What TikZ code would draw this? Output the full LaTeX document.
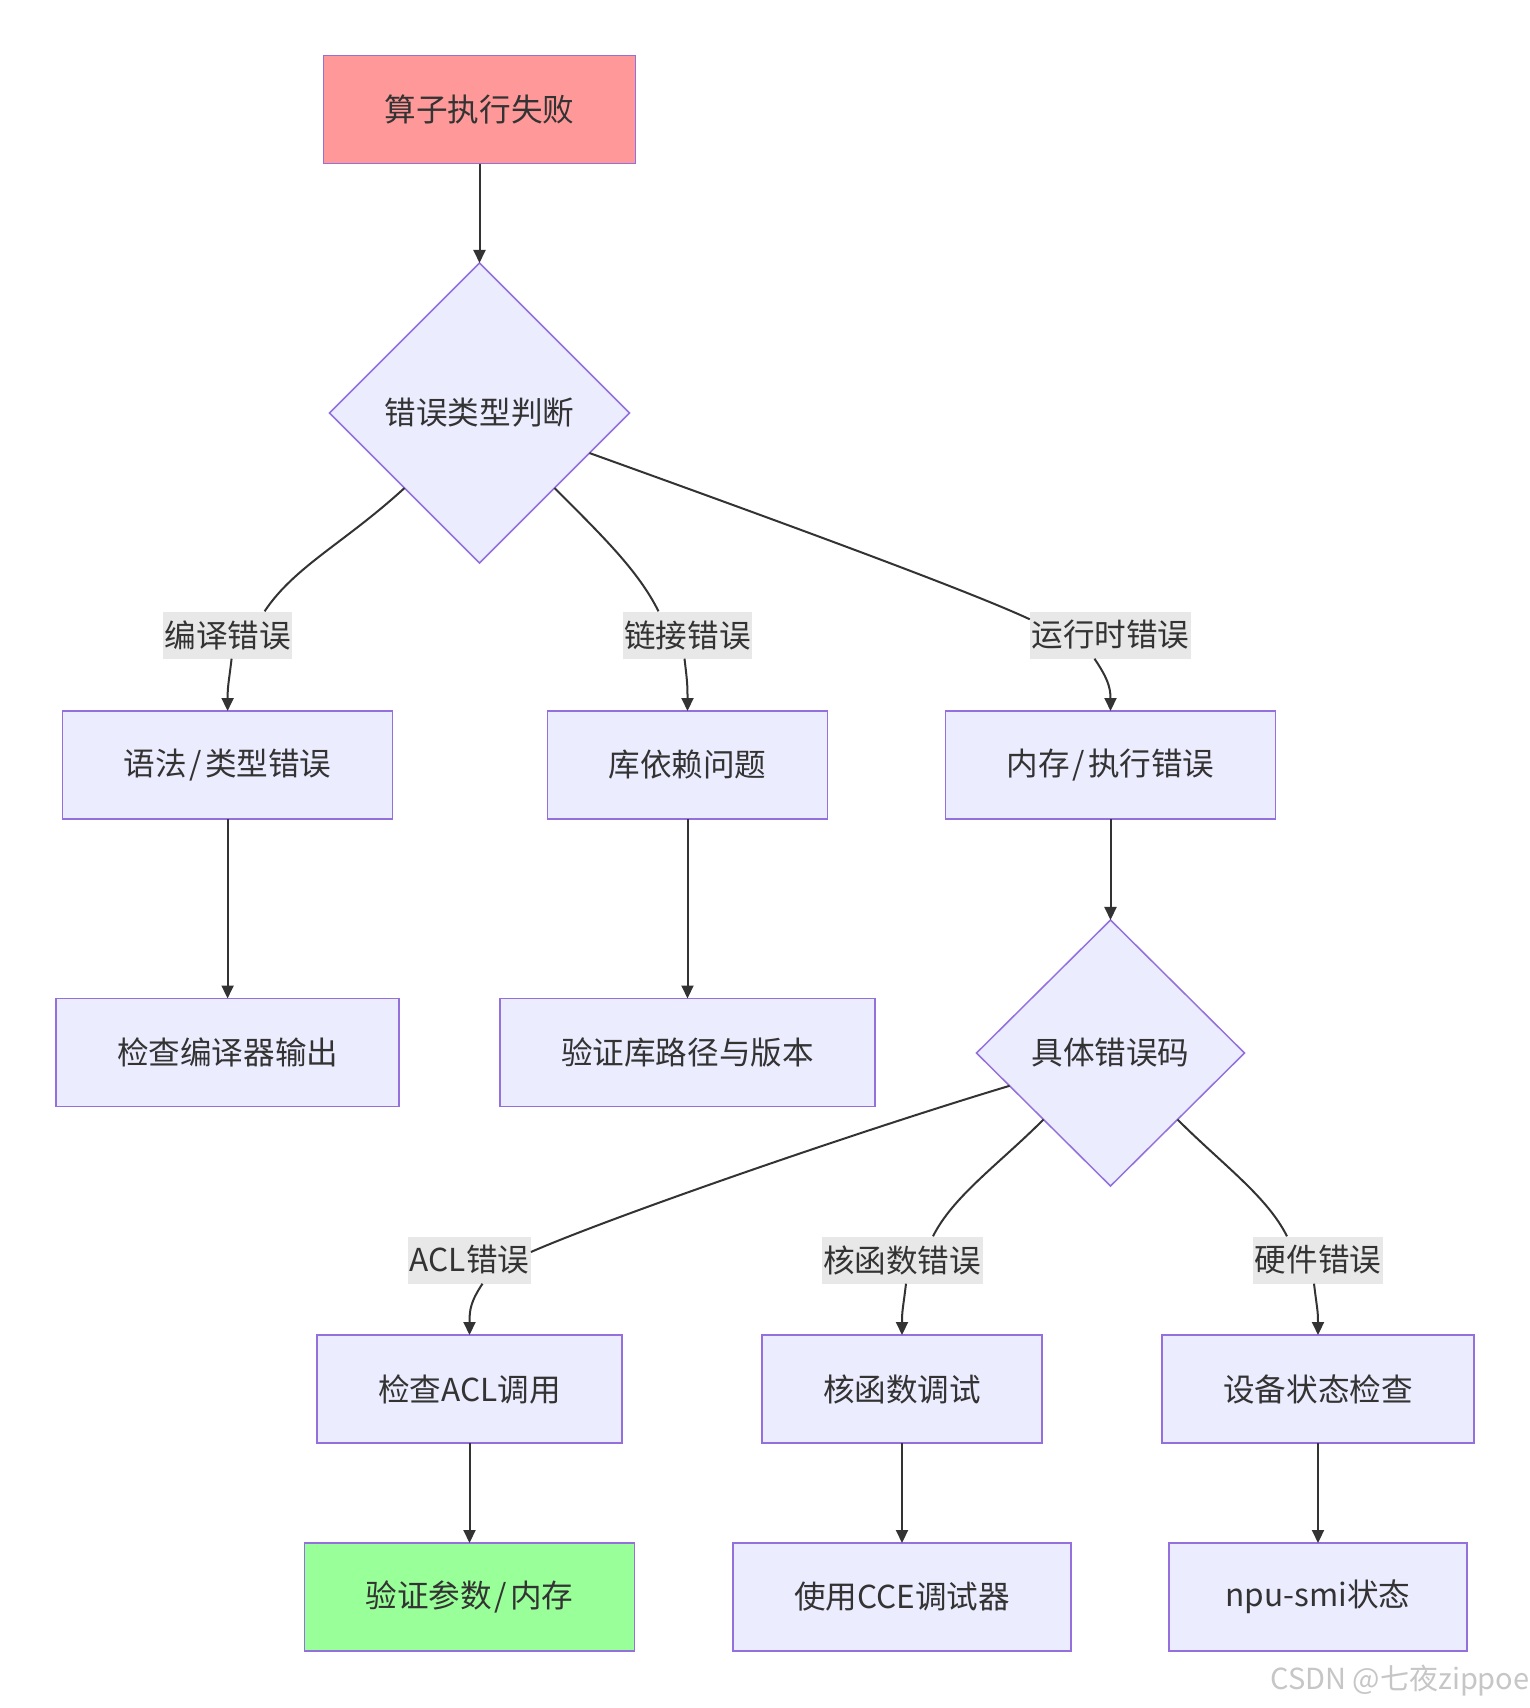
\documentclass[tikz,border=0pt]{standalone}
\usepackage{fontspec}
\setmainfont{Noto Sans CJK SC}
\usetikzlibrary{shapes.geometric,arrows.meta}
\definecolor{nodefill}{HTML}{ECECFF}
\definecolor{nodeline}{HTML}{9370DB}
\definecolor{startfill}{HTML}{FF9999}
\definecolor{okfill}{HTML}{99FF99}
\definecolor{labelfill}{HTML}{E8E8E8}
\definecolor{ink}{HTML}{333333}
\newcommand{\slashsep}{\kern3pt/\kern3pt}
\begin{document}
\begin{tikzpicture}[x=1pt,y=-1pt,
    every node/.style={font=\fontsize{31.6}{38}\selectfont, text=ink},
    box/.style={draw=nodeline, line width=1.5pt, fill=nodefill, minimum height=108pt,
      inner xsep=61pt, inner ysep=0pt, outer sep=0pt},
    decision/.style={box, shape=diamond, aspect=1, inner sep=0pt},
    edgelabel/.style={fill=labelfill, inner xsep=1.5pt, inner ysep=0pt, minimum height=47pt},
    wire/.style={draw=ink, line width=2pt},
    link/.style={wire, -{Triangle[length=13pt,width=12pt]}}]
      \useasboundingbox (0,0) rectangle (1530,1708);
      \draw
        (479.5,109.5) node[box, fill=startfill] (0){算子执行失败}
        (479.5,413) node[decision, minimum width=300pt, minimum height=300pt] (1){错误类型判断}
        (227.6,765) node[box] (2){语法\slashsep 类型错误}
        (687.5,765) node[box] (3){库依赖问题}
        (1110.5,765) node[box] (4){内存\slashsep 执行错误}
        (227.6,1052.5) node[box] (5){检查编译器输出}
        (687.5,1052.5) node[box] (6){验证库路径与版本}
        (1110.5,1053) node[decision, minimum width=268pt, minimum height=266pt] (7){具体错误码}
        (469.5,1389) node[box] (8){检查ACL调用}
        (902,1389) node[box] (9){核函数调试}
        (1318,1389) node[box] (10){设备状态检查}
        (469.5,1597) node[box, fill=okfill] (11){验证参数\slashsep 内存}
        (902,1597) node[box] (12){使用CCE调试器}
        (1318,1597) node[box, inner xsep=56.5pt] (13){npu-smi状态};
      \draw
        (227.6,635) node[edgelabel] (a){编译错误}
        (687.5,635) node[edgelabel] (b){链接错误}
        (1110.5,635) node[edgelabel] (c){运行时错误}
        (469.5,1260) node[edgelabel] (d){ACL错误}
        (902,1260) node[edgelabel] (e){核函数错误}
        (1318,1260) node[edgelabel] (f){硬件错误};
      \draw (1400,1681) node[text=gray!45, font=\fontsize{29}{34}\selectfont] (w){CSDN @七夜zippoe};
      \begin{scope}[wire]
        \draw[link] (0) -- (1);
        \draw (1.south west) .. controls +(-60,55) and +(30,-45) .. ([xshift=37pt]a.north);
        \draw[link] ([xshift=4pt]a.south) .. controls +(-3,25) and +(0,-25) .. (2.north);
        \draw (1.south east) .. controls +(50,50) and +(-20,-40) .. ([xshift=-29pt]b.north);
        \draw[link] ([xshift=-3pt]b.south) .. controls +(3,25) and +(0,-25) .. (3.north);
        \draw (1.-20) .. controls +(200,72) and +(-60,-28) .. ([yshift=-8pt]c.north west);
        \draw[link] ([xshift=-16pt]c.south) .. controls +(12,18) and +(0,-25) .. (4.north);
        \draw[link] (2) -- (5);
        \draw[link] (3) -- (6);
        \draw[link] (4) -- (7);
        \draw (7.198) .. controls +(-150,45) and +(80,-35) .. ([yshift=8pt]d.east);
        \draw[link] ([xshift=13pt]d.south) .. controls +(-12,18) and +(0,-25) .. (8.north);
        \draw (7.south west) .. controls +(-45,45) and +(20,-40) .. ([xshift=31pt]e.north);
        \draw[link] ([xshift=4pt]e.south) .. controls +(-3,25) and +(0,-25) .. (9.north);
        \draw (7.south east) .. controls +(45,45) and +(-20,-40) .. ([xshift=-31pt]f.north);
        \draw[link] ([xshift=-4pt]f.south) .. controls +(3,25) and +(0,-25) .. (10.north);
        \draw[link] (8) -- (11);
        \draw[link] (9) -- (12);
        \draw[link] (10) -- (13);
      \end{scope}
    \end{tikzpicture}
\end{document}
